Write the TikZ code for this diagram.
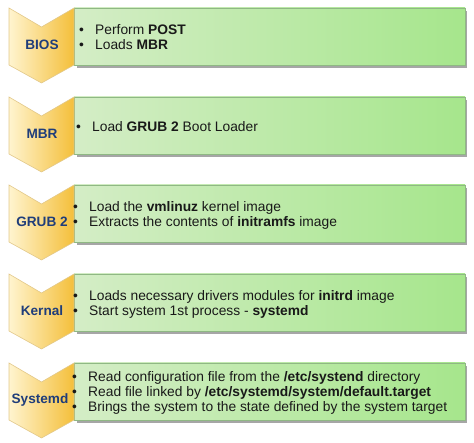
\documentclass[tikz,border=0pt]{standalone}
\usepackage{fontspec}
\setmainfont{Liberation Sans}
\usetikzlibrary{positioning}
\definecolor{lblblue}{HTML}{1F3D7A}
\definecolor{chevL}{HTML}{FFF4CF}
\definecolor{chevR}{HTML}{F4BF3A}
\definecolor{chevB}{HTML}{E2C88A}
\definecolor{grnL}{HTML}{D4EDC6}
\definecolor{grnR}{HTML}{A6E68C}
\definecolor{grnB}{HTML}{8FB884}
\tikzset{
  chev/.style={left color=chevL, right color=chevR, draw=chevB, line width=0.6pt},
  gbox/.style={left color=grnL, right color=grnR, draw=grnB, line width=0.8pt},
  shad/.style={fill=black!35, draw=none},
  lbl/.style={font=\fontsize{13.6}{15}\selectfont\bfseries, text=lblblue, anchor=center, inner sep=0pt},
  txt/.style={font=\fontsize{13.8}{15}\selectfont, text=black!90, anchor=west, align=left, inner sep=0pt},
}
\newcommand{\bul}{\makebox[16pt][l]{\textbullet}}
\begin{document}
\begin{tikzpicture}[x=1pt,y=-1pt]
\useasboundingbox (0,0) rectangle (474,443);
\foreach \t/\n in {8/a,97/b,185/c,274/d,363/e}{
  \fill[shad] (77,\t+3) rectangle (467,\t+60);
  \shade[gbox] (74,\t) rectangle (465,\t+57);
  \shade[chev] (9,\t) -- (41.5,\t+19) -- (74,\t) -- (74,\t+57) -- (41.5,\t+75) -- (9,\t+57) -- cycle;
}
\node[lbl] (l1) at (42,45) {BIOS};
\node[lbl] (l2) at (42,134) {MBR};
\node[lbl] (l3) at (42,222) {GRUB 2};
\node[lbl] (l4) at (42,311) {Kernal};
\node[lbl] (l5) at (40,400) {Systemd};
\node[txt] (t1) at (79,37.5) {\bul Perform \textbf{POST}\\\bul Loads \textbf{MBR}};
\node[txt] (t2) at (76,127) {\bul Load \textbf{GRUB 2} Boot Loader};
\node[txt] (t3) at (73,215) {\bul Load the \textbf{vmlinuz} kernel image\\\bul Extracts the contents of \textbf{initramfs} image};
\node[txt] (t4) at (73,304) {\bul Loads necessary drivers modules for \textbf{initrd} image\\\bul Start system 1st process - \textbf{systemd}};
\node[txt] (t5) at (72,393) {\bul Read configuration file from the \textbf{/etc/systend} directory\\\bul Read file linked by \textbf{/etc/systemd/system/default.target}\\\bul Brings the system to the state defined by the system target};
\end{tikzpicture}
\end{document}
